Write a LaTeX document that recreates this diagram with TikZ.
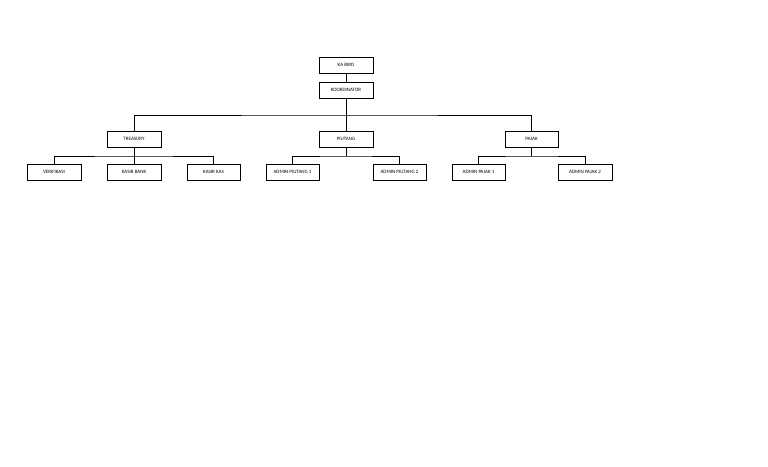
\documentclass[tikz,border=0pt]{standalone}
\usepackage{fontspec}
\setmainfont{Carlito}
\begin{document}
\begin{tikzpicture}[x=1pt,y=-1pt,
  box/.style={draw,line width=0.9pt,minimum width=54pt,minimum height=16pt,inner sep=0pt,font=\fontsize{5}{6}\selectfont},
  con/.style={line width=0.9pt}]
\useasboundingbox (0,0) rectangle (768,466);
\node[box] (ka) at (346,65) {KA BIRO};
\node[box] (ko) at (346,90) {KOORDINATOR};
\node[box] (tr) at (134,139) {TREASURY};
\node[box] (pi) at (346,139) {PIUTANG};
\node[box,minimum width=53pt] (pa) at (531.5,139) {PAJAK};
\node[box] (v) at (54,172) {VERIFIKASI};
\node[box] (kb) at (134,172) {KASIR BANK};
\node[box,minimum width=53pt] (kk) at (213.5,172) {KASIR KAS};
\node[box,minimum width=53pt] (ap1) at (292.5,172) {ADMIN PIUTANG 1};
\node[box,minimum width=53pt] (ap2) at (399.5,172) {ADMIN PIUTANG 2};
\node[box,minimum width=53pt] (aj1) at (478.5,172) {ADMIN PAJAK 1};
\node[box] (aj2) at (585,172) {ADMIN PAJAK 2};
\draw[con] (ka) -- (ko);
\draw[con] (ko.south) -- (346,115) coordinate (j1);
\draw[con] (tr.north) |- (j1) -| (pa.north);
\draw[con] (j1) -- (pi.north);
\draw[con] (tr.south) -- (134,156) coordinate (j2);
\draw[con] (v.north) |- (j2) -| (kk.north);
\draw[con] (j2) -- (kb.north);
\draw[con] (pi.south) -- (346,156) coordinate (j3);
\draw[con] (ap1.north) |- (j3) -| (ap2.north);
\draw[con] (pa.south) -- (531.5,156) coordinate (j4);
\draw[con] (aj1.north) |- (j4) -| (aj2.north);
\end{tikzpicture}
\end{document}
